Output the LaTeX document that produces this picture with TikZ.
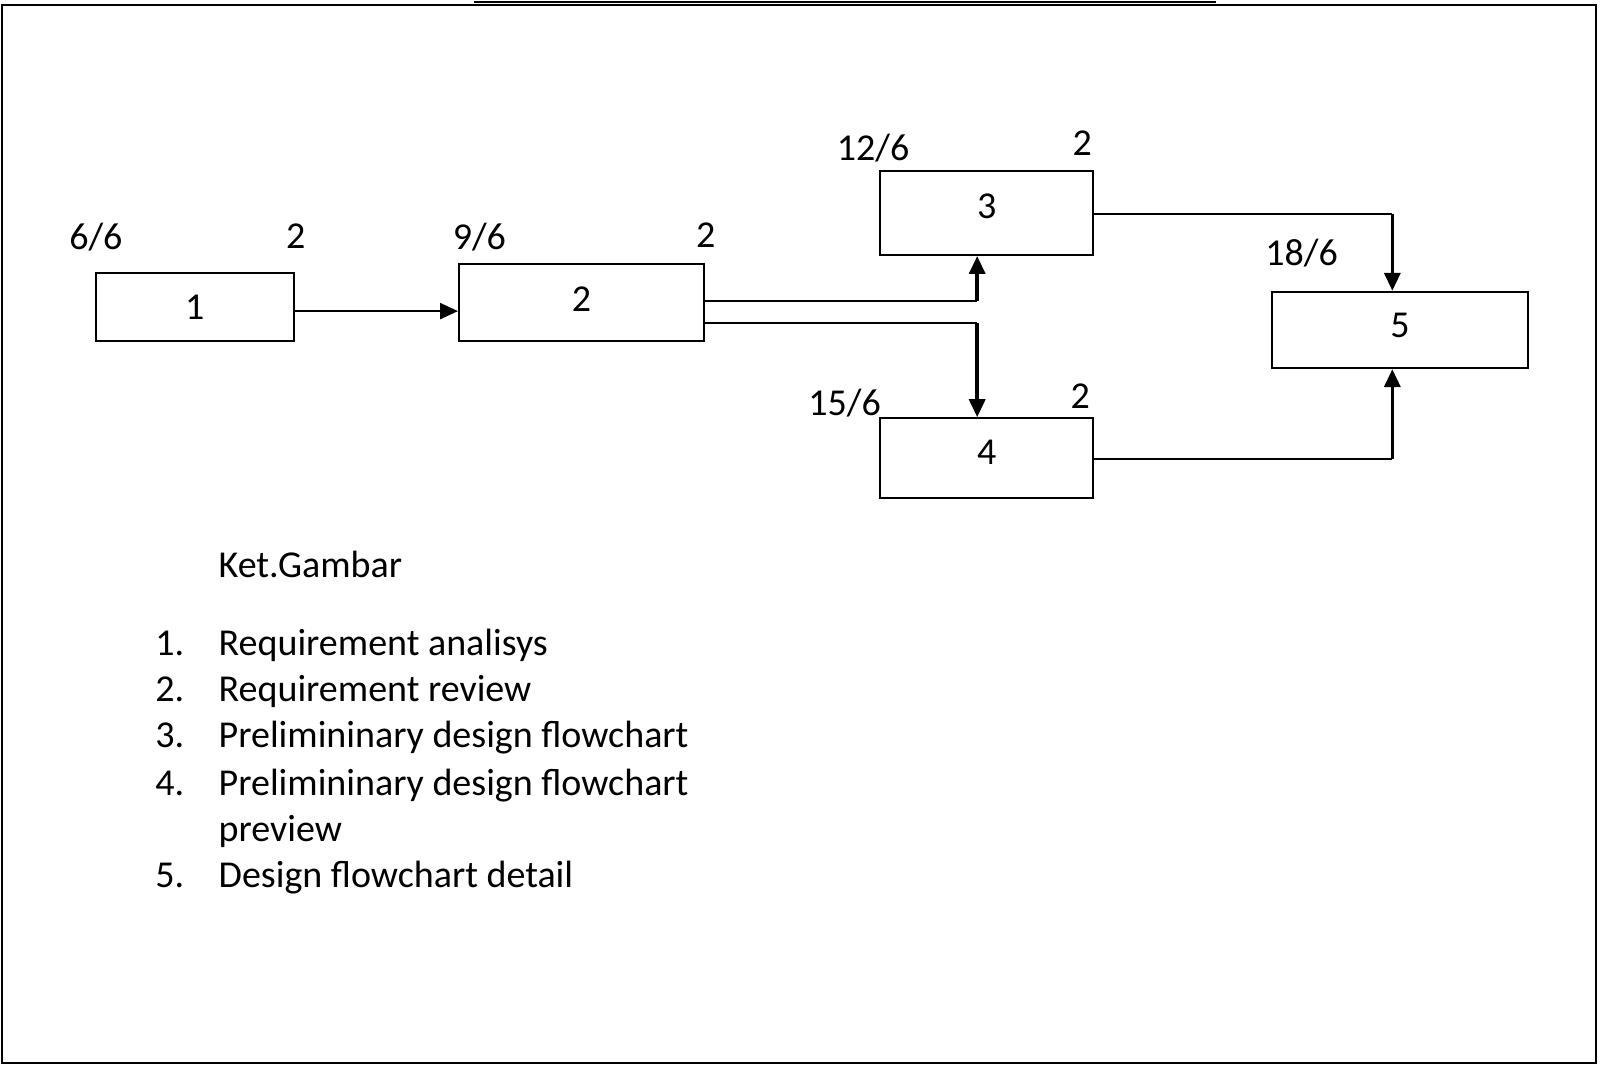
\documentclass[tikz,border=0pt]{standalone}
\usepackage{fontspec}
\setmainfont{Carlito}
\usetikzlibrary{arrows.meta}
\begin{document}
\begin{tikzpicture}[x=0.51pt,y=-0.51pt,
 box/.style={draw,line width=1pt,inner sep=0},
 lab/.style={font=\fontsize{19}{22}\selectfont,inner sep=0},
 con/.style={line width=1.2pt,-{Triangle[length=9pt,width=8pt]}}]
\useasboundingbox (0,0) rectangle (1568.6,1044.1);
\draw[line width=1pt] (2,5) rectangle (1565,1042);
\draw[line width=0.6pt] (465,2) -- (1192,2);
\node[box,minimum width=99pt,minimum height=33.7pt] (b1) at (191,301) {};
\node[lab] at (191,301) {1};
\node[box,minimum width=122.4pt,minimum height=38.2pt] (b2) at (570,296.5) {};
\node[lab] at (570,293) {2};
\node[box,minimum width=106.6pt,minimum height=41.8pt] (b3) at (967.5,209) {};
\node[lab] at (967.5,202) {3};
\node[box,minimum width=106.6pt,minimum height=39.8pt] (b4) at (967.5,449) {};
\node[lab] at (967.5,443) {4};
\node[box,minimum width=128pt,minimum height=38.2pt] (b5) at (1372.5,323.5) {};
\node[lab] at (1372.5,319) {5};
\node[lab] at (94,232) {6/6};
\node[lab] at (290,232) {2};
\node[lab] at (470,232) {9/6};
\node[lab] at (692,231) {2};
\node[lab] at (856,145) {12/6};
\node[lab] at (1061,140) {2};
\node[lab] at (1276,248) {18/6};
\node[lab] at (828,395) {15/6};
\node[lab] at (1059,388) {2};
\coordinate (c23) at (958,295);
\coordinate (c24) at (958,317);
\coordinate (c35) at (1365,210);
\coordinate (c45) at (1365,450);
\draw[con] (b1.east |- 0,305) -- (b2.west |- 0,305);
\draw[line width=1pt] (b2.east |- c23) -- (c23);
\draw[con,line width=1.8pt] (c23) -- (c23 |- b3.south);
\draw[line width=1pt] (b2.east |- c24) -- (c24);
\draw[con,line width=1.8pt] (c24) -- (c24 |- b4.north);
\draw[line width=1pt] (b3.east |- c35) -- (c35);
\draw[con,line width=1.8pt] (c35) -- (c35 |- b5.north);
\draw[line width=1pt] (b4.east |- c45) -- (c45);
\draw[con,line width=1.8pt] (c45) -- (c45 |- b5.south);
\node[lab,anchor=base west] at (214,566) {Ket.Gambar};
\foreach \n/\y/\s in {1./643/Requirement analisys,2./688/Requirement review,3./733/Prelimininary design flowchart,4./780/Prelimininary design flowchart,/825/preview,5./870/Design flowchart detail}{
 \node[lab,anchor=base west] at (152,\y) {\n};
 \node[lab,anchor=base west] at (214,\y) {\s};
}
\end{tikzpicture}
\end{document}
